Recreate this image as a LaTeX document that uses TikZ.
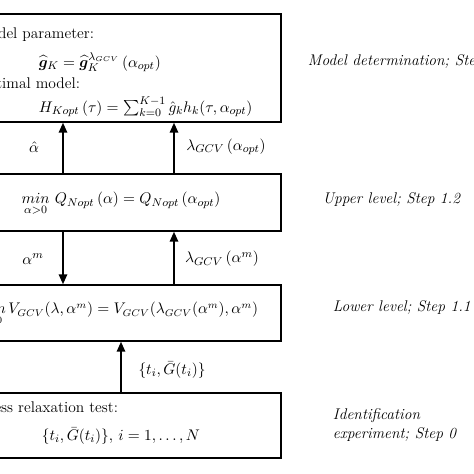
\documentclass[tikz,border=0pt]{standalone}
\usepackage{amsmath}
\usepackage{bm}
\usetikzlibrary{arrows.meta, positioning}
\tikzset{x=0.025cm,y=-0.025cm, >={Triangle[length=7pt,width=6pt]}}

\begin{document}
\begin{tikzpicture}
% Style
[
    font=\fontsize{11}{13}\selectfont,
    level box/.style={draw, line width=1.1pt, inner sep=0pt, minimum width=9.275cm},
    flow/.style={->, line width=1.1pt},
    step text/.style={anchor=west, font=\fontsize{11}{13}\selectfont\itshape, align=left}
]

%=================================== Start ===================================
{
    % Define: Frame
    \useasboundingbox (0,0) rectangle (474,474);
    \clip (0,0) rectangle (474,474);

    % Draw: Boxes
    \node[level box, minimum height=2.7cm]   (model) at (95.5,68)    {};
    \node[level box, minimum height=1.425cm] (upper) at (95.5,202.5) {};
    \node[level box, minimum height=1.4cm]   (lower) at (95.5,313)   {};
    \node[level box, minimum height=1.625cm] (test)  at (95.5,425.5) {};

    % Draw: Box texts
    \node[anchor=base east] (model par) at (99,38) {Model parameter:};
    \node[anchor=base west] (model g) at (34,67)
        {$\widehat{\bm{g}}_K = \widehat{\bm{g}}_K^{\lambda_{GCV}}\,(\alpha_{opt})$};
    \node[anchor=base east] (model opt) at (85,88) {Optimal model:};
    \node[anchor=base west] (model H) at (34,112)
        {$H_{Kopt}\,(\tau) = \textstyle\sum_{k=0}^{K-1} \hat{g}_k h_k(\tau,\alpha_{opt})$};
    \node (upper eq) at (121,204)
        {$\mathop{min}\limits_{\alpha>0}\, Q_{Nopt}\,(\alpha) = Q_{Nopt}\,(\alpha_{opt})$};
    \node[anchor=east, font=\fontsize{10.5}{12}\selectfont] (lower eq) at (263,314)
        {$\mathop{min}\limits_{\lambda>0} V_{GCV}(\lambda,\alpha^m) = V_{GCV}(\lambda_{GCV}(\alpha^m),\alpha^m)$};
    \node[anchor=base east] (test name) at (123,412) {Stress relaxation test:};
    \node (test data) at (121,436)
        {$\{t_i,\bar{G}(t_i)\},\, i = 1, \ldots, N$};

    % Draw: Arrows
    \coordinate (left lane)  at (63,0);
    \coordinate (right lane) at (174,0);
    \coordinate (mid lane)   at (121,0);
    \draw[flow] (upper.north -| left lane)  -- (model.south -| left lane);
    \draw[flow] (upper.north -| right lane) -- (model.south -| right lane);
    \draw[flow] (upper.south -| left lane)  -- (lower.north -| left lane);
    \draw[flow] (lower.north -| right lane) -- (upper.south -| right lane);
    \draw[flow] (test.north -| mid lane)    -- (lower.south -| mid lane);

    % Draw: Arrow labels
    \node (alpha hat)  at (34,147)  {$\hat{\alpha}$};
    \node (lambda opt) at (226,147) {$\lambda_{GCV}\,(\alpha_{opt})$};
    \node (alpha m)    at (33,259)  {$\alpha^m$};
    \node (lambda m)   at (222,259) {$\lambda_{GCV}\,(\alpha^m)$};
    \node (data)       at (172,370) {$\{t_i,\bar{G}(t_i)\}$};

    % Draw: Step names
    \node[step text] (step model) at (303,62)  {Model determination; Step 2};
    \node[step text] (step upper) at (318,200) {Upper level; Step 1.2};
    \node[step text] (step lower) at (328,308) {Lower level; Step 1.1};
    \node[step text] (step test)  at (328,425) {Identification\\experiment; Step 0};
}
%==================================== END ====================================

\end{tikzpicture}
\end{document}
